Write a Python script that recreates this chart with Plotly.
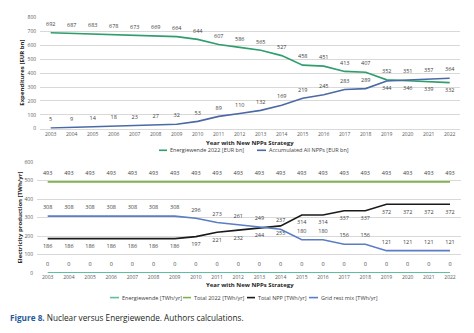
import plotly.graph_objects as go

W, H = 474, 333

years = list(range(2003, 2023))

# Upper panel: expenditures [EUR bn]
energiewende_eur = [692, 687, 683, 678, 673, 669, 664, 644, 607, 586,
                    565, 527, 458, 451, 413, 407, 352, 346, 339, 332]
accumulated_npp_eur = [5, 9, 14, 18, 23, 27, 32, 53, 89, 110,
                       132, 169, 219, 245, 283, 289, 344, 351, 357, 364]

# Lower panel: electricity production [TWh/yr]
energiewende_twh = [0] * 20
total_2022_twh = [493] * 20
total_npp_twh = [186, 186, 186, 186, 186, 186, 186, 197, 221, 232,
                 244, 255, 314, 314, 337, 337, 372, 372, 372, 372]
grid_rest_twh = [308, 308, 308, 308, 308, 308, 308, 296, 273, 261,
                 249, 237, 180, 180, 156, 156, 121, 121, 121, 121]

top_names = ["Energiewende 2022 [EUR bn]", "Accumulated All NPPs [EUR bn]"]
bottom_names = ["Energiewende [TWh/yr]", "Total 2022 [TWh/yr]",
                "Total NPP [TWh/yr]", "Grid rest mix [TWh/yr]"]

C_GREEN = "#2f9e6c"
C_BLUE = "#4b69a6"
C_TEAL = "#5cc0a0"
C_OLIVE = "#80b44a"
C_BLACK = "#1a1a1a"
C_LBLUE = "#5a7dc4"
LBL = "#404040"
FONT = "Open Sans"


def px_x(p):
    return p / W


def px_y(p):
    return (H - p) / H


fig = go.Figure()


def add_series(x, y, name, color, pos, xa, ya, width=1.6):
    # invisible markers give the value labels some clearance from the line
    fig.add_trace(go.Scatter(
        x=x, y=y, name=name, mode="lines+markers+text",
        line=dict(color=color, width=width),
        marker=dict(size=7, color="rgba(0,0,0,0)"),
        text=[str(v) for v in y], textposition=pos,
        textfont=dict(size=5.5, color=LBL, family=FONT),
        cliponaxis=False, showlegend=False, hoverinfo="x+y+name",
        xaxis=xa, yaxis=ya,
    ))


# label placement: the two upper series swap sides once they cross
green_pos = ["top center"] * 17 + ["bottom center"] * 3
blue_pos = ["top center"] * 16 + ["bottom center"] + ["top center"] * 3

add_series(years, energiewende_eur, top_names[0], C_GREEN, green_pos, "x", "y")
add_series(years, accumulated_npp_eur, top_names[1], C_BLUE, blue_pos, "x", "y")

add_series(years, energiewende_twh, bottom_names[0], C_TEAL, "top center", "x2", "y2", 2.2)
add_series(years, total_2022_twh, bottom_names[1], C_OLIVE, "top center", "x2", "y2")
add_series(years, total_npp_twh, bottom_names[2], C_BLACK, "bottom center", "x2", "y2")
add_series(years, grid_rest_twh, bottom_names[3], C_LBLUE, "top center", "x2", "y2")

axis_common = dict(
    tickfont=dict(size=5, color="#595959", family=FONT),
    showgrid=False, zeroline=False, ticks="",
)
grid_common = dict(
    tickfont=dict(size=5, color="#595959", family=FONT),
    showgrid=True, gridcolor="#d9d9d9", gridwidth=0.8,
    zeroline=False, ticks="", showline=False, ticklabelstandoff=3,
)

fig.update_layout(
    width=W, height=H,
    margin=dict(l=0, r=0, t=0, b=0),
    paper_bgcolor="white", plot_bgcolor="white",
    showlegend=False,
    xaxis=dict(domain=[px_x(40.2), px_x(460.2)], anchor="y",
               range=[2002.5, 2022.5], tickvals=years,
               ticktext=[str(v) for v in years], showline=True,
               linecolor="#d9d9d9", linewidth=0.8, **axis_common),
    yaxis=dict(domain=[px_y(128), px_y(15)], anchor="x",
               range=[0, 800], dtick=100, **grid_common),
    xaxis2=dict(domain=[px_x(37.1), px_x(460.6)], anchor="y2",
                range=[2002.5, 2022.5], tickvals=years,
                ticktext=[str(v) for v in years], showline=False,
                **axis_common),
    yaxis2=dict(domain=[px_y(275), px_y(162)], anchor="x2",
                range=[0, 600], dtick=100, **grid_common),
)

annotations = []
shapes = []


def text_at(x, y, s, size, bold=False, angle=0, xanchor="center", color="#262626"):
    annotations.append(dict(
        x=px_x(x), y=px_y(y), xref="paper", yref="paper",
        text=f"<b>{s}</b>" if bold else s, showarrow=False,
        xanchor=xanchor, yanchor="middle", textangle=angle,
        font=dict(size=size, color=color, family=FONT),
    ))


# axis titles
text_at(22.5, 71.5, "Expenditures [EUR bn]", 6, bold=True, angle=-90)
text_at(250, 142.5, "Year with New NPPs Strategy", 6, bold=True)
text_at(20, 218.5, "Electricity production [TWh/yr]", 6, bold=True, angle=-90)
text_at(250, 287.5, "Year with New NPPs Strategy", 6, bold=True)


def legend_item(x0, x1, y, color, name, width=1.6):
    shapes.append(dict(type="line", xref="paper", yref="paper",
                       x0=px_x(x0), x1=px_x(x1), y0=px_y(y), y1=px_y(y),
                       line=dict(color=color, width=width)))
    text_at(x1 + 1, y, name, 5.5, xanchor="left", color="#404040")


legend_item(159, 167, 150, C_GREEN, top_names[0])
legend_item(257, 266, 150, C_BLUE, top_names[1])

legend_item(110, 119, 300, C_TEAL, bottom_names[0])
legend_item(183, 191, 300, C_OLIVE, bottom_names[1])
legend_item(247, 255, 300, C_BLACK, bottom_names[2])
legend_item(309, 318, 300, C_LBLUE, bottom_names[3])

# figure caption
annotations.append(dict(
    x=px_x(8), y=px_y(320), xref="paper", yref="paper",
    text="<b><span style='color:#1f5b9c'>Figure 8.</span></b> Nuclear versus Energiewende. Authors calculations.",
    showarrow=False, xanchor="left", yanchor="middle",
    font=dict(size=8.2, color="#231f20", family="Open Sans"),
))

fig.update_layout(annotations=annotations, shapes=shapes)

fig.write_html("out.html")
